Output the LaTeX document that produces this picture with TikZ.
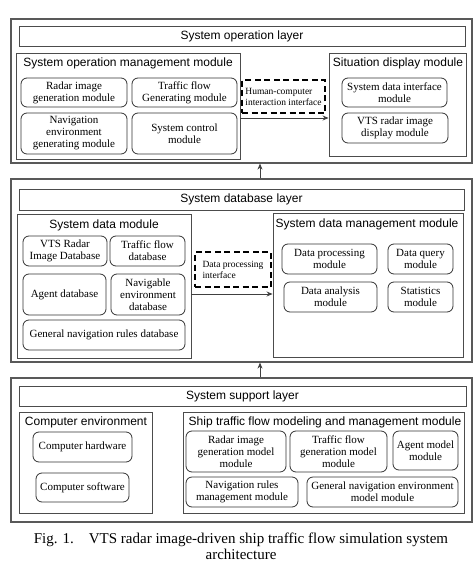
\documentclass[tikz,border=0pt]{standalone}
\usepackage{fontspec}
\setmainfont{Liberation Serif}
\setsansfont{Liberation Sans}
\usetikzlibrary{arrows.meta}
\newcommand\bx[7][]{\node[#1, minimum width={#4pt-#2pt}, minimum height={#5pt-#3pt}] (#6) at ({(#2+#4)/2},{(#3+#5)/2}) {#7};}
\begin{document}
\begin{tikzpicture}[x=1pt,y=-1pt,
 layer/.style={draw=black!65, line width=1.2pt, inner sep=0},
 bar/.style={draw=black!70, line width=0.9pt, inner sep=0, font=\sffamily\fontsize{12}{14}\selectfont},
 module/.style={draw=black!70, line width=0.9pt, inner sep=0},
 mtitle/.style={font=\sffamily\fontsize{12}{14}\selectfont, inner sep=0},
 rbox/.style={draw=black!80, line width=0.8pt, rounded corners=6pt, align=center, inner sep=0, font=\fontsize{11}{12}\selectfont},
 dbox/.style={draw=black, dash pattern=on 6pt off 3.5pt, line width=1.2pt, align=left, inner sep=0, font=\fontsize{9.5}{11}\selectfont},
 arr/.style={-{Stealth[length=6pt,width=5pt]}, line width=0.8pt, draw=black!75},
]
\useasboundingbox (0,0) rectangle (474,562);
\fill[white] (0,0) rectangle (474,562);

% ---------- top layer
\bx[layer]{11}{19}{472}{163}{L1}{}
\bx[bar]{19}{26}{465}{46}{L1bar}{System operation layer}
\bx[module]{16}{53}{240}{159}{SOMM}{}
\node[mtitle] (SOMMt) at (128,63) {System operation management module};
\bx[rbox]{21}{78}{127}{107}{r1}{Radar image\\generation module}
\bx[rbox]{132}{78}{237}{107}{r2}{Traffic flow\\Generating module}
\bx[rbox]{21}{113}{127}{154}{r3}{Navigation\\environment\\generating module}
\bx[rbox]{132}{113}{237}{154}{r4}{System control\\module}
\bx[dbox]{242}{80}{325}{113}{hci}{Human-computer\\interaction interface}
\bx[module]{329}{53}{466}{156}{SDisp}{}
\node[mtitle] (SDispt) at (398,63) {Situation display module};
\bx[rbox]{342}{78}{447}{107}{s1}{System data interface\\module}
\bx[rbox]{342}{113}{448}{143}{s2}{VTS radar image\\display module}
\draw[arr] ([yshift=-12pt]SOMM.east) -- ([yshift=-12pt]SOMM.east -| SDisp.west);

% ---------- middle layer
\bx[layer]{11}{179}{472}{362}{L2}{}
\bx[bar]{19}{189}{464}{210}{L2bar}{System database layer}
\bx[module]{17}{214}{191}{358}{SDMod}{}
\node[mtitle] (SDModt) at (104,225) {System data module};
\bx[rbox]{23}{236}{107}{266}{d1}{VTS Radar\\Image Database}
\bx[rbox]{110}{236}{185}{266}{d2}{Traffic flow\\database}
\bx[rbox]{23}{274}{106}{315}{d3}{Agent database}
\bx[rbox]{111}{274}{185}{315}{d4}{Navigable\\environment\\database}
\bx[rbox]{23}{320}{185}{350}{d5}{General navigation rules database}
\bx[dbox]{195}{252}{271}{287}{dpi}{Data processing\\interface}
\bx[module]{273}{213}{463}{357}{SDMM}{}
\node[mtitle] (SDMMt) at (367,224) {System data management module};
\bx[rbox]{282}{244}{377}{274}{m1}{Data processing\\module}
\bx[rbox]{388}{244}{453}{274}{m2}{Data query\\module}
\bx[rbox]{284}{282}{377}{312}{m3}{Data analysis\\module}
\bx[rbox]{388}{282}{453}{312}{m4}{Statistics\\module}
\draw[arr] ([yshift=-8pt]SDMod.east) -- ([yshift=-8pt]SDMod.east -| SDMM.west);

% ---------- bottom layer
\bx[layer]{11}{378}{472}{522}{L3}{}
\bx[bar]{19}{386}{466}{406}{L3bar}{System support layer}
\bx[module]{19}{412}{152}{513}{CE}{}
\node[mtitle] (CEt) at (86,422) {Computer environment};
\bx[rbox]{33}{432}{132}{462}{c1}{Computer hardware}
\bx[rbox]{36}{473}{129}{502}{c2}{Computer software}
\bx[module]{183}{412}{464}{513}{STF}{}
\node[mtitle] (STFt) at (325,422) {Ship traffic flow modeling and management module};
\bx[rbox]{186}{431}{286}{472}{t1}{Radar image\\generation model\\module}
\bx[rbox]{290}{431}{387}{472}{t2}{Traffic flow\\generation model\\module}
\bx[rbox]{393}{431}{458}{470}{t3}{Agent model\\module}
\bx[rbox]{186}{477}{298}{507}{t4}{Navigation rules\\management module}
\bx[rbox]{307}{477}{458}{507}{t5}{General navigation environment\\model module}

% ---------- layer arrows
\draw[arr] ([xshift=18.5pt]L2.north) -- ([xshift=18.5pt]L1.south);
\draw[arr] ([xshift=18.5pt]L3.north) -- ([xshift=18.5pt]L2.south);

% ---------- caption
\node[align=center, inner sep=0, font=\fontsize{15}{16}\selectfont] (cap) at (241,546)
 {Fig. 1.\quad VTS radar image-driven ship traffic flow simulation system\\architecture};
\end{tikzpicture}
\end{document}
